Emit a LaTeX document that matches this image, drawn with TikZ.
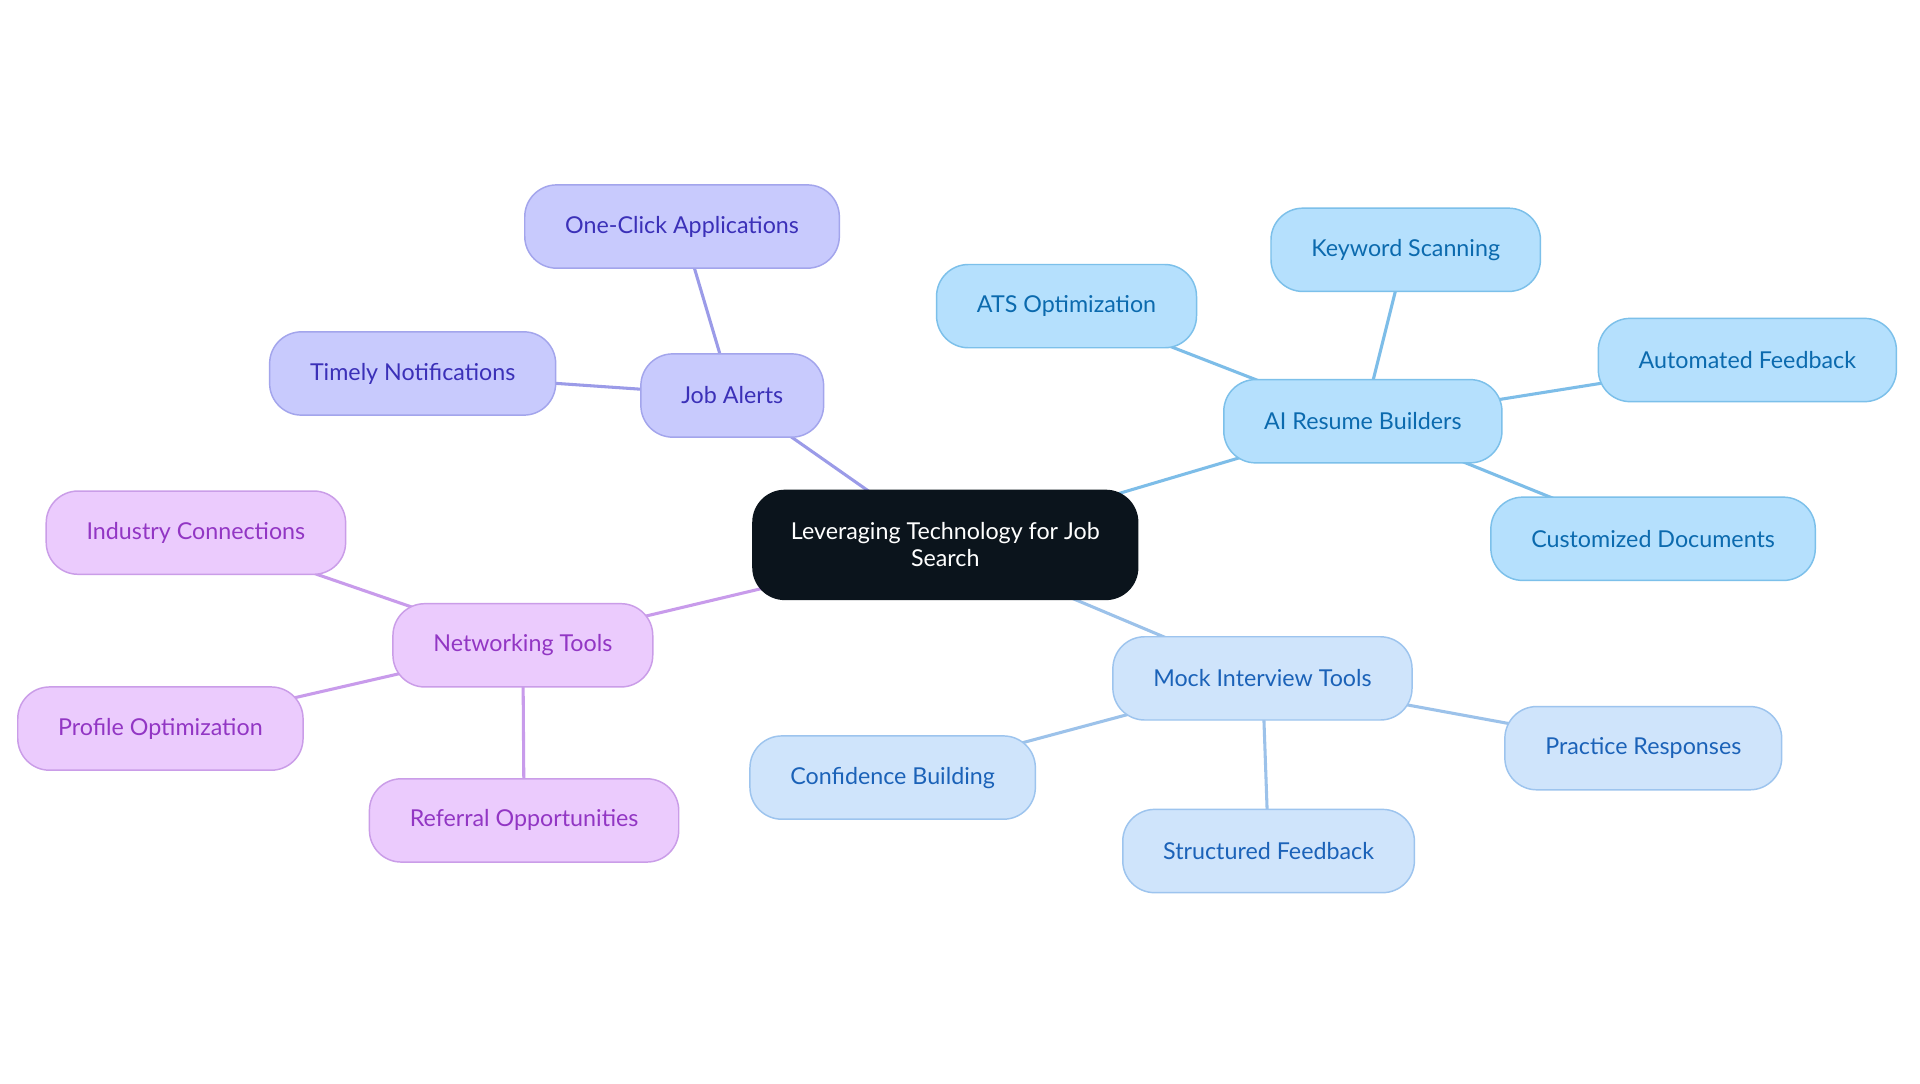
\documentclass[tikz,border=0pt]{standalone}
\usepackage{fontspec}
\setmainfont{Lato}
\usepackage{tikz}
\usetikzlibrary{backgrounds}

\definecolor{rootfill}{HTML}{0B141C}
\definecolor{alertfill}{HTML}{C8CAFD}
\definecolor{alertline}{HTML}{A3A5EC}
\definecolor{alerttext}{HTML}{3B30B8}
\definecolor{alertedge}{HTML}{9B9BE8}
\definecolor{resumefill}{HTML}{B5E0FD}
\definecolor{resumeline}{HTML}{7CC0EA}
\definecolor{resumetext}{HTML}{0B6AAE}
\definecolor{resumeedge}{HTML}{7DBDE8}
\definecolor{mockfill}{HTML}{CFE4FB}
\definecolor{mockline}{HTML}{9DC4EE}
\definecolor{mocktext}{HTML}{1B62B8}
\definecolor{mockedge}{HTML}{9CC2EA}
\definecolor{netfill}{HTML}{EBCBFD}
\definecolor{netline}{HTML}{CA9DE8}
\definecolor{nettext}{HTML}{9236C4}
\definecolor{netedge}{HTML}{C89BEB}

\tikzset{
	topic/.style={draw, line width=1.2pt, rounded corners=26pt, minimum height=68pt,
		inner xsep=33pt, font=\fontsize{19}{22}\selectfont},
	root/.style={topic, fill=rootfill, draw=rootfill, text=white, minimum height=89pt,
		inner xsep=31pt, align=center},
	alerts/.style={topic, fill=alertfill, draw=alertline, text=alerttext},
	resume/.style={topic, fill=resumefill, draw=resumeline, text=resumetext},
	mock/.style={topic, fill=mockfill, draw=mockline, text=mocktext},
	net/.style={topic, fill=netfill, draw=netline, text=nettext},
	link/.style={line width=2.5pt}
}

\begin{document}
\begin{tikzpicture}[x=1pt,y=-1pt]
		\useasboundingbox (0,0) rectangle (1568,884.5);

		% Central topic
		\node[root] (root) at (772,445) {Leveraging Technology for Job\\Search};

		% Job alerts branch
		\node[alerts] (alerts) at (598,323) {Job Alerts};
		\node[alerts] (oneclick) at (557,185) {One-Click Applications};
		\node[alerts] (timely) at (337,305) {Timely Notifications};

		% AI resume branch
		\node[resume] (resume) at (1113,344) {AI Resume Builders};
		\node[resume] (ats) at (871,250) {ATS Optimization};
		\node[resume] (keyword) at (1148,204) {Keyword Scanning};
		\node[resume] (autofb) at (1427,294) {Automated Feedback};
		\node[resume] (custom) at (1350,440) {Customized Documents};

		% Mock interview branch
		\node[mock] (mock) at (1031,554) {Mock Interview Tools};
		\node[mock] (confidence) at (729,635) {Confidence Building};
		\node[mock] (structfb) at (1036,695) {Structured Feedback};
		\node[mock] (practice) at (1342,611) {Practice Responses};

		% Networking branch
		\node[net] (net) at (427,527) {Networking Tools};
		\node[net] (industry) at (160,435) {Industry Connections};
		\node[net] (profile) at (131,595) {Profile Optimization};
		\node[net] (referral) at (428,670) {Referral Opportunities};

		% Connectors, centre to centre, hidden under the boxes
		\begin{scope}[on background layer]
			\fill[white] (0,0) rectangle (1568,884.5);
			\draw[link,alertedge] (root.center) -- (alerts.center);
			\draw[link,alertedge] (alerts.center) -- (oneclick.center);
			\draw[link,alertedge] (alerts.center) -- (timely.center);
			\draw[link,resumeedge] (root.center) -- (resume.center);
			\draw[link,resumeedge] (resume.center) -- (ats.center);
			\draw[link,resumeedge] (resume.center) -- (keyword.center);
			\draw[link,resumeedge] (resume.center) -- (autofb.center);
			\draw[link,resumeedge] (resume.center) -- (custom.center);
			\draw[link,mockedge] (root.center) -- (mock.center);
			\draw[link,mockedge] (mock.center) -- (confidence.center);
			\draw[link,mockedge] (mock.center) -- (structfb.center);
			\draw[link,mockedge] (mock.center) -- (practice.center);
			\draw[link,netedge] (root.center) -- (net.center);
			\draw[link,netedge] (net.center) -- (industry.center);
			\draw[link,netedge] (net.center) -- (profile.center);
			\draw[link,netedge] (net.center) -- (referral.center);
		\end{scope}
	\end{tikzpicture}
\end{document}
